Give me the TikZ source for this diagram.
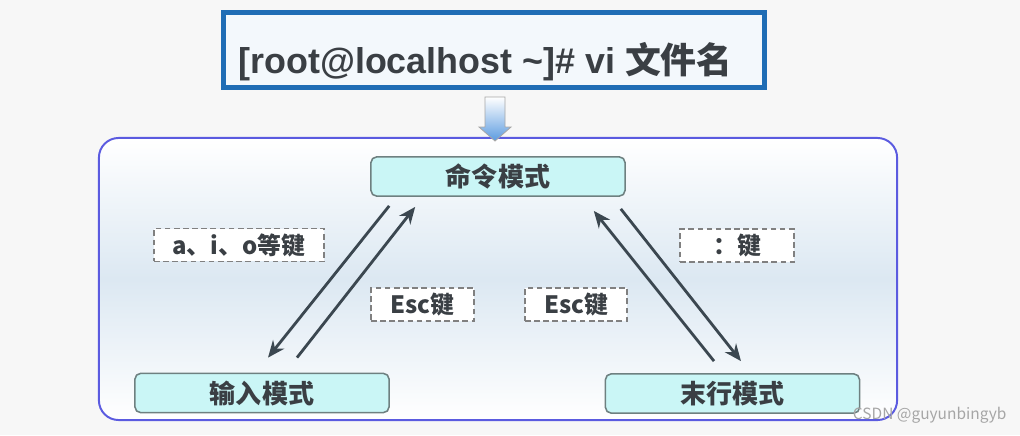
\documentclass[tikz,border=0pt]{standalone}
\usepackage{fontspec}
\setmainfont{Noto Sans CJK SC}
\newfontfamily\lat{Liberation Sans}
\usetikzlibrary{arrows.meta}
\definecolor{framecol}{HTML}{5B5BE0}
\definecolor{topcol}{HTML}{1F6DB5}
\definecolor{topfill}{HTML}{F3F8FC}
\definecolor{modefill}{HTML}{CAF6F6}
\definecolor{modeline}{HTML}{6E8080}
\definecolor{ink}{HTML}{3A3F44}
\definecolor{arrowcol}{HTML}{3B4750}
\definecolor{haze}{HTML}{DCE8F2}
\definecolor{arrowblue}{HTML}{5B9BE0}

\begin{document}
\begin{tikzpicture}[x=0.025cm,y=-0.025cm,
	mode/.style={draw=modeline,line width=1.1pt,fill=modefill,rounded corners=4pt,minimum width=6.35cm,minimum height=0.98cm,text=ink,font=\bfseries\fontsize{18.5}{22}\selectfont},
	keybox/.style={draw=gray,dash pattern=on 4pt off 2.5pt,line width=1pt,fill=white,text=ink,inner sep=0pt,minimum height=0.82cm,font=\bfseries\fontsize{17}{20}\selectfont},
	trans/.style={draw=arrowcol,line width=2pt,-{Stealth[length=12pt,width=10pt]}}]
	\useasboundingbox (0,0) rectangle (1020,435);
	\fill[black!3] (0,0) rectangle (1020,435);
	\node[draw=framecol,line width=1.4pt,rounded corners=14pt,minimum width=19.95cm,minimum height=7.05cm,top color=white,bottom color=white,middle color=haze] (frame) at (498,279) {};
	\node[draw=topcol,line width=3.5pt,fill=topfill,minimum width=13.5cm,minimum height=1.85cm,text=ink,text height=40pt,text depth=7pt,font=\bfseries\fontsize{25.5}{30}\selectfont] (top) at (494,50) {\hspace{-12pt}{\lat [root@localhost \textasciitilde]\# vi }文件名};
	\shadedraw[draw=gray!70,line width=0.6pt,top color=white,bottom color=arrowblue] (485,97) -- (505,97) -- (505,127) -- (511,127) -- (495,141) -- (479,127) -- (485,127) -- cycle;
	\node[mode] (cmd) at (498,176.5) {命令模式};
	\node[mode] (ins) at (262,393) {输入模式};
	\node[mode] (last) at (732.5,393.5) {末行模式};
	\node[keybox,minimum width=4.25cm] (keyins) at (239,245) {a、i、o等键};
	\node[keybox,minimum width=2.575cm] (escins) at (422.5,304.5) {Esc键};
	\node[keybox,minimum width=2.55cm] (esclast) at (576,304.5) {Esc键};
	\node[keybox,minimum width=2.85cm] (keylast) at (737,245.5) {：键};
	\draw[trans] ([shift={(19,9)}]cmd.south west) -- ([shift={(6,-15)}]ins.north);
	\draw[trans] ([shift={(35,-15)}]ins.north) -- ([shift={(45,10)}]cmd.south west);
	\draw[trans] ([shift={(-18.5,-12)}]last.north) -- ([shift={(-32,14)}]cmd.south east);
	\draw[trans] ([shift={(-5,12)}]cmd.south east) -- ([shift={(8.5,-12)}]last.north);
	\node[text=gray!70,anchor=west,font=\fontsize{11}{13}\selectfont] (mark) at (848,415) {CSDN @guyunbingyb};
\end{tikzpicture}
\end{document}
